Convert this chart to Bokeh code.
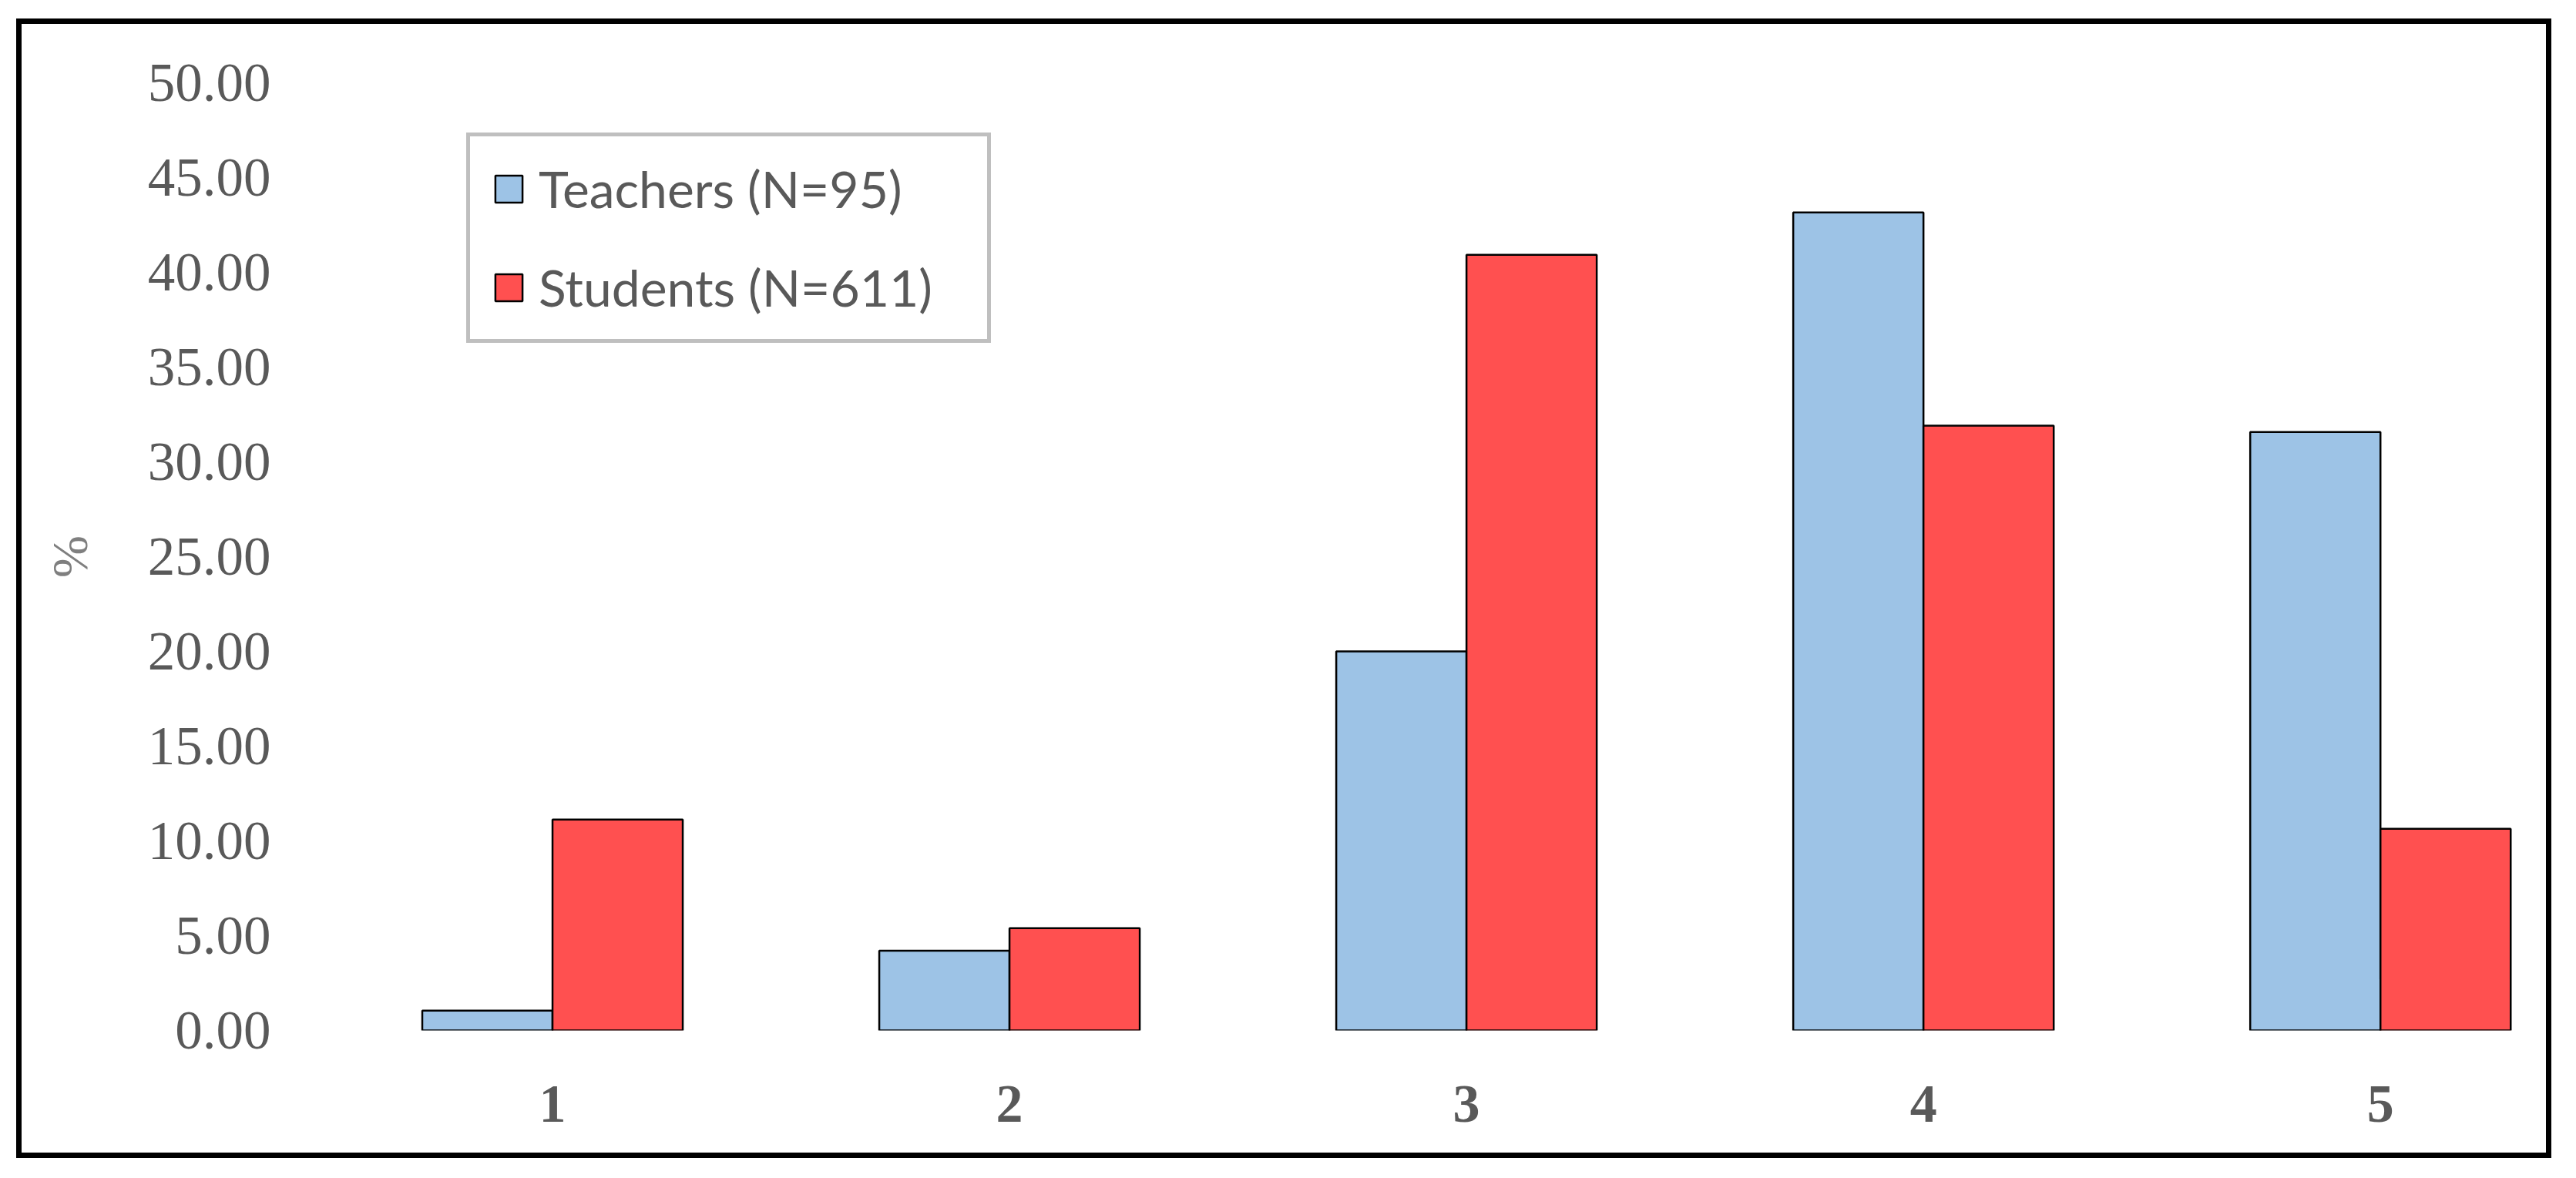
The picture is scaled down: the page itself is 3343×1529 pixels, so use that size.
from bokeh.plotting import figure
from bokeh.models import (ColumnDataSource, Range1d, FixedTicker, NumeralTickFormatter,
                          Legend, LegendItem)
from bokeh.layouts import column
from bokeh.transform import dodge
from bokeh.embed import file_html
from bokeh.resources import INLINE

# ---- data ----
categories = [1, 2, 3, 4, 5]
category_labels = ["1", "2", "3", "4", "5"]
teachers = [1.05, 4.21, 20.00, 43.16, 31.58]
students = [11.13, 5.40, 40.92, 31.91, 10.64]
series_names = ["Teachers (N=95)", "Students (N=611)"]
y_ticks = [0, 5, 10, 15, 20, 25, 30, 35, 40, 45, 50]
y_label = "%"

teacher_color = "#9DC3E6"
student_color = "#FF5050"
text_gray = "#595959"

src = ColumnDataSource(dict(cat=categories, teachers=teachers, students=students))

p = figure(width=3276, height=1465, output_backend="svg", toolbar_location=None,
           x_range=Range1d(0.5, 5.363), y_range=Range1d(0, 50),
           min_border_left=392, min_border_right=0, min_border_top=76,
           min_border_bottom=159)
p.outline_line_color = None
p.grid.visible = False
p.background_fill_color = "white"
p.border_fill_color = "white"

bw = 0.285
r_t = p.vbar(x=dodge("cat", -bw / 2), top="teachers", width=bw, bottom=0, source=src,
             fill_color=teacher_color, line_color="black", line_width=2.5)
r_s = p.vbar(x=dodge("cat", bw / 2), top="students", width=bw, bottom=0, source=src,
             fill_color=student_color, line_color="black", line_width=2.5)

# y axis
ya = p.yaxis[0]
ya.ticker = FixedTicker(ticks=y_ticks)
ya.formatter = NumeralTickFormatter(format="0.00")
ya.axis_line_color = None
ya.major_tick_line_color = None
ya.minor_tick_line_color = None
ya.major_tick_out = 0
ya.major_label_standoff = 69
ya.major_label_text_font = "Liberation Serif"
ya.major_label_text_font_size = "71px"
ya.major_label_text_color = text_gray
ya.axis_label = y_label
ya.axis_label_standoff = 62
ya.axis_label_text_font = "Liberation Serif"
ya.axis_label_text_font_style = "normal"
ya.axis_label_text_font_size = "66px"
ya.axis_label_text_color = "#7F7F7F"
ya.axis_label_text_align = "right"

# x axis
xa = p.xaxis[0]
xa.ticker = FixedTicker(ticks=categories)
xa.major_label_overrides = {c: l for c, l in zip(categories, category_labels)}
xa.axis_line_color = None
xa.major_tick_line_color = None
xa.minor_tick_line_color = None
xa.major_tick_out = 0
xa.major_label_standoff = 72
xa.major_label_text_font = "Liberation Serif"
xa.major_label_text_font_style = "bold"
xa.major_label_text_font_size = "70px"
xa.major_label_text_color = text_gray

legend = Legend(items=[LegendItem(label=series_names[0], renderers=[r_t]),
                       LegendItem(label=series_names[1], renderers=[r_s])],
                location=(185, 892))
legend.border_line_color = "#808080"
legend.border_line_width = 5
legend.background_fill_color = "white"
legend.background_fill_alpha = 1
legend.padding = 28
legend.margin = 0
legend.spacing = 49
legend.label_height = 60
legend.glyph_height = 44
legend.glyph_width = 44
legend.label_standoff = 17
legend.label_width = 554
legend.label_text_font = "Lato"
legend.label_text_font_size = "66px"
legend.label_text_color = text_gray
p.add_layout(legend, "center")

layout = column(p, styles={"border": "7px solid black"}, margin=(24, 0, 0, 21))

open("out.html", "w").write(file_html(layout, INLINE))
